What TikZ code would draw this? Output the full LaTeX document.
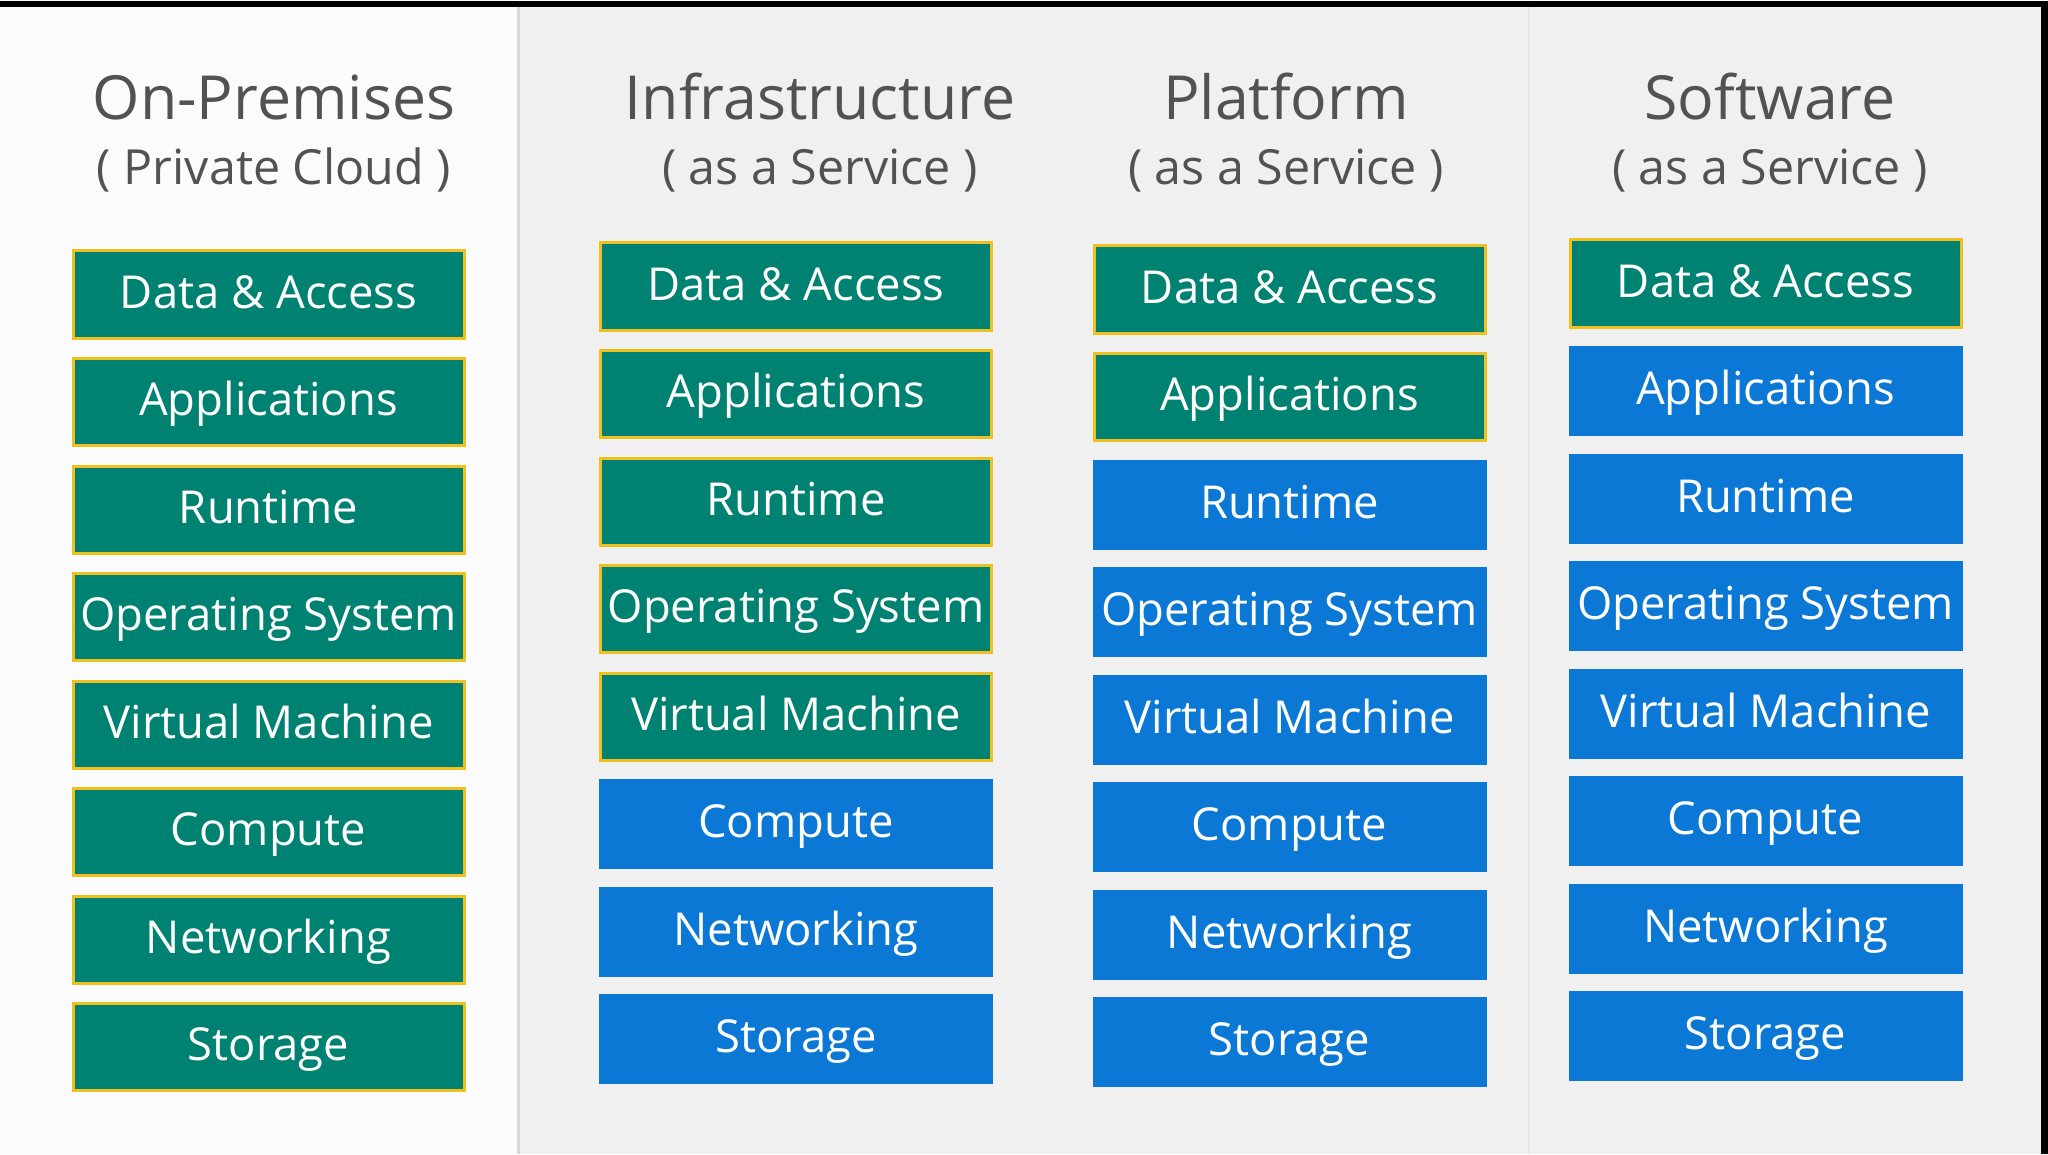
\documentclass[tikz,border=0pt]{standalone}
\usepackage{fontspec}
\setmainfont{Open Sans}

\definecolor{ownedgreen}{RGB}{0,130,114}
\definecolor{ownedgold}{RGB}{240,192,30}
\definecolor{vendorblue}{RGB}{10,120,212}
\definecolor{titlegray}{RGB}{82,82,82}
\definecolor{panelgray}{RGB}{240,240,241}
\definecolor{panelwhite}{RGB}{251,251,251}
\definecolor{dividergray}{RGB}{214,214,214}

\tikzset{
	layer/.style={minimum width=195.5pt, minimum height=43.5pt, inner sep=0pt,
		text=white, font=\fontsize{22.7}{26}\selectfont, text height=16.2pt, text depth=2.5pt},
	managed/.style={layer, fill=ownedgreen, draw=ownedgold, line width=1.5pt},
	hosted/.style={layer, fill=vendorblue, minimum width=197pt, minimum height=45pt},
	heading/.style={text=titlegray, anchor=base, inner sep=0pt, font=\fontsize{30.4}{36}\selectfont},
	subheading/.style={text=titlegray, anchor=base, inner sep=0pt, font=\fontsize{24.2}{28}\selectfont}
}

\begin{document}
\begin{tikzpicture}[x=0.5pt, y=-0.5pt]

% draw background panels
	\fill[panelgray] (0,0) rectangle (2048,1152);
	\fill[panelwhite] (0,0) rectangle (518,1152);
	\draw[dividergray, line width=1.5pt] (518,0) -- (518,1152);
	\draw[dividergray!60, line width=0.8pt] (1529,0) -- (1529,1152);
	\fill[black] (0,0) rectangle (2048,6);
	\fill[black] (2041,0) rectangle (2048,1152);

% column titles
	\node[heading] (op-title) at (274,118) {On-Premises};
	\node[subheading] (op-sub) at (274,183) {( Private Cloud )};
	\node[heading] (iaas-title) at (820,118) {Infrastructure};
	\node[subheading] (iaas-sub) at (820,183) {( as a Service )};
	\node[heading] (paas-title) at (1286,118) {Platform};
	\node[subheading] (paas-sub) at (1286,183) {( as a Service )};
	\node[heading] (saas-title) at (1770,118) {Software};
	\node[subheading] (saas-sub) at (1770,183) {( as a Service )};

% stacks: green = you manage, blue = provider manages
	\foreach \col/\cx/\cy/\owned in {op/268.5/293/8, iaas/796/285/5, paas/1289.5/288/2, saas/1765.5/282/1} {
		\foreach \lbl [count=\i] in {Data \& Access, Applications, Runtime, Operating System,
			Virtual Machine, Compute, Networking, Storage} {
			\ifnum\i>\owned \def\kind{hosted}\else \def\kind{managed}\fi
			\node[\kind] (\col-\i) at (\cx, \cy+107.5*\i-107.5) {\lbl};
		}
	}

\end{tikzpicture}
\end{document}
